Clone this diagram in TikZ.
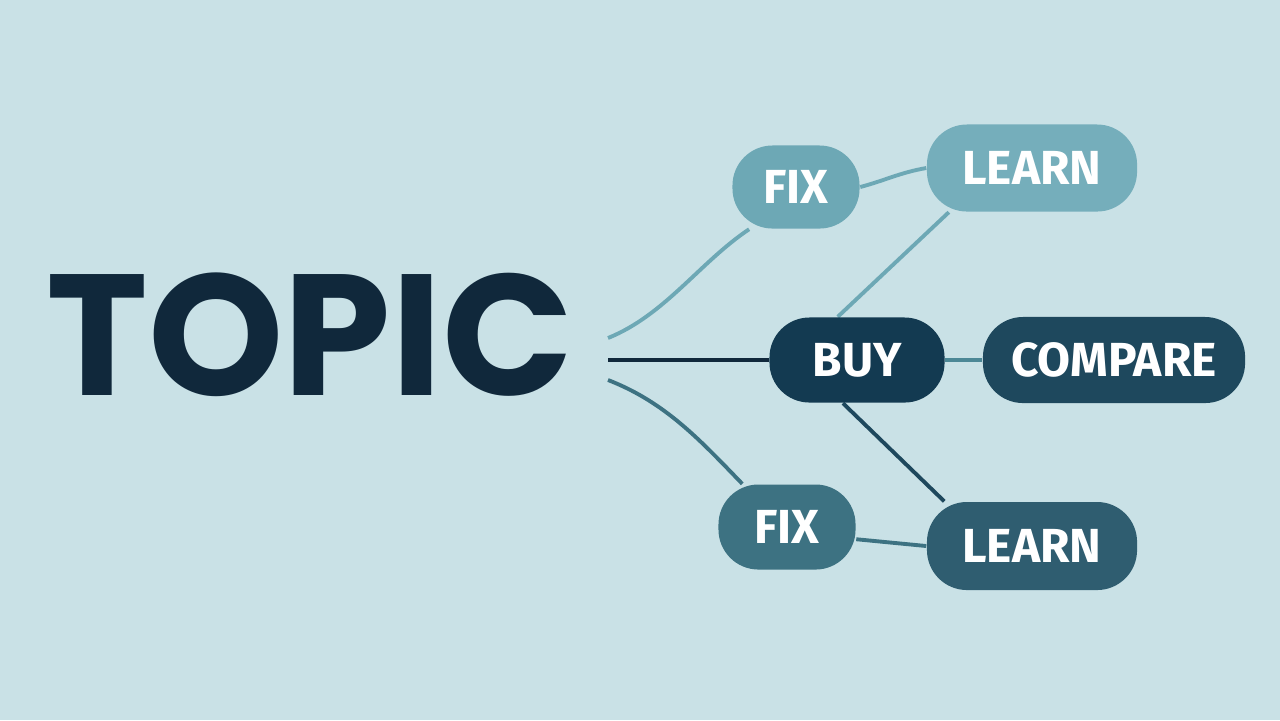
\documentclass[tikz,border=0pt]{standalone}
\usepackage{fontspec}
\setmainfont{Fira Sans}
\newfontfamily\titlefont{Poppins}
\usetikzlibrary{backgrounds}

\definecolor{bgblue}{HTML}{C9E1E6}
\definecolor{lightteal}{HTML}{6DA8B5}
\definecolor{paleteal}{HTML}{75AEBB}
\definecolor{midteal}{HTML}{3D7282}
\definecolor{greyteal}{HTML}{4C8896}
\definecolor{deepteal}{HTML}{2F5D70}
\definecolor{navy}{HTML}{133A51}
\definecolor{navysoft}{HTML}{1E485D}
\definecolor{inkblue}{HTML}{10283B}

\tikzset{
	pill/.style={rounded corners=0.4cm, inner sep=0pt, text=white,
		font=\fontsize{13.6}{16}\selectfont\bfseries},
	link/.style={line width=1.1pt}
}

\begin{document}
\begin{tikzpicture}[x=0.01cm, y=-0.01cm]

% main topic
\node[anchor=base west, inner sep=0pt, text=inkblue,
	font=\titlefont\fontsize{49}{50}\selectfont\bfseries] (topic) at (46, 395) {TOPIC};

\coordinate (hubtop) at (608, 338);
\coordinate (hubmid) at (608, 360);
\coordinate (hubbot) at (608, 380);

% branches
\node[pill, fill=lightteal, minimum width=1.27cm, minimum height=0.83cm] (fixa) at (796, 187) {FIX};
\node[pill, fill=paleteal, minimum width=2.10cm, minimum height=0.87cm] (learna) at (1032, 168) {LEARN};
\node[pill, fill=navy, minimum width=1.75cm, minimum height=0.85cm] (buy) at (857, 360) {BUY};
\node[pill, fill=navysoft, minimum width=2.62cm, minimum height=0.86cm] (compare) at (1114, 360) {COMPARE};
\node[pill, fill=midteal, minimum width=1.37cm, minimum height=0.85cm] (fixb) at (787, 527) {FIX};
\node[pill, fill=deepteal, minimum width=2.10cm, minimum height=0.88cm] (learnb) at (1032, 546) {LEARN};

\begin{pgfonlayer}{background}
\fill[bgblue] (0, 0) rectangle (1280, 720);

\draw[link, lightteal] (hubtop) .. controls (665, 315) and (700, 262) .. (fixa.222);
\draw[link, inkblue] (hubmid) -- (buy.west);
\draw[link, midteal] (hubbot) .. controls (665, 402) and (700, 440) .. (fixb.136);

\draw[link, lightteal] (fixa.east) to[out=15, in=190] (learna.west);
\draw[link, lightteal] (buy.114) -- (learna.208);
\draw[link, greyteal] (buy.east) -- (compare.west);
\draw[link, navysoft] (buy.252) -- (learnb.153);
\draw[link, midteal] (fixb.-10) -- (learnb.west);
\end{pgfonlayer}

\end{tikzpicture}
\end{document}
